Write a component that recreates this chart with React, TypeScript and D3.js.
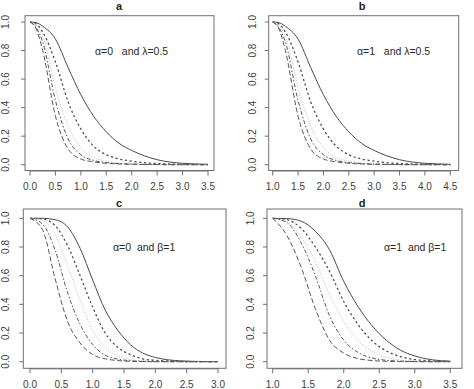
import React from 'react';
import * as d3 from 'd3';

// ---------- data ----------
const xA = [0, 0.125, 0.25, 0.5, 0.75, 1, 1.25, 1.5, 1.75, 2, 2.5, 3, 3.5];
const aSolid = [1, 0.995, 0.97, 0.88, 0.68, 0.49, 0.34, 0.23, 0.15, 0.1, 0.035, 0.01, 0.003];
const aDashed = [1, 0.985, 0.93, 0.72, 0.44, 0.25, 0.13, 0.07, 0.04, 0.025, 0.008, 0.003, 0.001];
const aDotted = [1, 0.975, 0.9, 0.54, 0.27, 0.12, 0.05, 0.025, 0.012, 0.006, 0.002, 0.001, 0];
const aDashDot = [1, 0.96, 0.86, 0.45, 0.18, 0.07, 0.03, 0.015, 0.008, 0.004, 0.001, 0, 0];
const aLongDash = [1, 0.95, 0.8, 0.34, 0.11, 0.04, 0.02, 0.01, 0.005, 0.003, 0.001, 0, 0];

const xB = [1, 1.125, 1.25, 1.5, 1.75, 2, 2.25, 2.5, 2.75, 3, 3.5, 4, 4.5];
const bSolid = [1, 0.995, 0.97, 0.88, 0.68, 0.49, 0.34, 0.23, 0.15, 0.1, 0.035, 0.01, 0.003];
const bDashed = [1, 0.985, 0.93, 0.72, 0.44, 0.25, 0.13, 0.07, 0.04, 0.025, 0.008, 0.003, 0.001];
const bDotted = [1, 0.975, 0.9, 0.54, 0.27, 0.12, 0.05, 0.025, 0.012, 0.006, 0.002, 0.001, 0];
const bDashDot = [1, 0.96, 0.86, 0.45, 0.18, 0.07, 0.03, 0.015, 0.008, 0.004, 0.001, 0, 0];
const bLongDash = [1, 0.95, 0.8, 0.34, 0.11, 0.04, 0.02, 0.01, 0.005, 0.003, 0.001, 0, 0];

const xC = [0, 0.2, 0.4, 0.6, 0.8, 1, 1.2, 1.4, 1.6, 1.8, 2, 2.4, 2.8, 3];
const cSolid = [1, 1, 0.99, 0.94, 0.79, 0.57, 0.36, 0.22, 0.12, 0.06, 0.03, 0.006, 0.001, 0];
const cDashed = [1, 0.995, 0.95, 0.81, 0.6, 0.38, 0.2, 0.1, 0.05, 0.02, 0.01, 0.002, 0, 0];
const cDotted = [1, 0.985, 0.89, 0.67, 0.43, 0.22, 0.1, 0.04, 0.015, 0.006, 0.002, 0, 0, 0];
const cDashDot = [1, 0.96, 0.78, 0.48, 0.26, 0.12, 0.045, 0.018, 0.007, 0.002, 0.001, 0, 0, 0];
const cLongDash = [1, 0.92, 0.58, 0.28, 0.13, 0.05, 0.02, 0.008, 0.003, 0.001, 0, 0, 0, 0];

const xD = [1, 1.2, 1.4, 1.6, 1.8, 2, 2.2, 2.4, 2.6, 2.8, 3, 3.25, 3.5];
const dSolid = [1, 0.998, 0.98, 0.91, 0.78, 0.56, 0.385, 0.25, 0.15, 0.08, 0.04, 0.013, 0.004];
const dDashed = [1, 0.99, 0.93, 0.8, 0.63, 0.42, 0.26, 0.145, 0.075, 0.035, 0.015, 0.005, 0.001];
const dDotted = [1, 0.98, 0.87, 0.7, 0.47, 0.28, 0.15, 0.07, 0.03, 0.012, 0.005, 0.001, 0];
const dDashDot = [1, 0.97, 0.83, 0.6, 0.32, 0.15, 0.065, 0.025, 0.01, 0.004, 0.001, 0, 0];
const dLongDash = [1, 0.88, 0.66, 0.37, 0.15, 0.06, 0.022, 0.008, 0.003, 0.001, 0, 0, 0];

const xTicksA = [0, 0.5, 1, 1.5, 2, 2.5, 3, 3.5];
const xTicksB = [1, 1.5, 2, 2.5, 3, 3.5, 4, 4.5];
const xTicksC = [0, 0.5, 1, 1.5, 2, 2.5, 3];
const xTicksD = [1, 1.5, 2, 2.5, 3, 3.5];
const yTicks = [0, 0.2, 0.4, 0.6, 0.8, 1];
const titles = ['a', 'b', 'c', 'd'];
const notes = ['\u03b1=0   and \u03bb=0.5', '\u03b1=1   and \u03bb=0.5', '\u03b1=0  and \u03b2=1', '\u03b1=1  and \u03b2=1'];

// ---------- styles / layout ----------
const lineStyles = [
  { color: '#4a4a4a', dash: undefined as string | undefined, width: 1 },
  { color: '#4a4a4a', dash: '2.2,2.6', width: 1.25 },
  { color: '#bdbdbd', dash: '1,1.5', width: 1 },
  { color: '#585858', dash: '4,2,1.5,2', width: 1 },
  { color: '#585858', dash: '5,2.5', width: 1 },
];

const layouts = [
  { box: [25, 15.7, 214, 170.5], xr: [30, 208], yr: [164.7, 22], ylabX: 8.6, xlabY: 190, title: [119, 10], note: [95, 55] },
  { box: [268.7, 15.7, 458.7, 170.5], xr: [272.7, 450.3], yr: [164.7, 22], ylabX: 255.6, xlabY: 190, title: [362, 10], note: [357, 55] },
  { box: [23.3, 209, 226, 368.3], xr: [30, 218], yr: [361.7, 218.3], ylabX: 8.6, xlabY: 388, title: [119, 207], note: [113, 251] },
  { box: [267, 209, 462, 368.3], xr: [272.7, 450.3], yr: [361.7, 218.3], ylabX: 253.6, xlabY: 388, title: [362, 207], note: [384, 251] },
];

const panels = [
  { xs: xA, xDomain: [0, 3.5], xTicks: xTicksA, series: [aSolid, aDashed, aDotted, aDashDot, aLongDash] },
  { xs: xB, xDomain: [1, 4.5], xTicks: xTicksB, series: [bSolid, bDashed, bDotted, bDashDot, bLongDash] },
  { xs: xC, xDomain: [0, 3], xTicks: xTicksC, series: [cSolid, cDashed, cDotted, cDashDot, cLongDash] },
  { xs: xD, xDomain: [1, 3.5], xTicks: xTicksD, series: [dSolid, dDashed, dDotted, dDashDot, dLongDash] },
];

const FONT = 'Liberation Sans, Arial, Helvetica, sans-serif';
const TEXT = '#404040';
const AXIS = '#707070';

function Panel({ idx }: { idx: number }) {
  const p = panels[idx];
  const L = layouts[idx];
  const x = d3.scaleLinear().domain(p.xDomain).range(L.xr);
  const y = d3.scaleLinear().domain([0, 1]).range(L.yr);
  const line = d3
    .line<[number, number]>()
    .x((d) => x(d[0]))
    .y((d) => y(d[1]))
    .curve(d3.curveMonotoneX);
  const [bx0, by0, bx1, by1] = L.box;
  return (
    <g>
      <text x={L.title[0]} y={L.title[1]} textAnchor="middle" fontFamily={FONT} fontWeight="bold" fontSize={11} fill="#222">
        {titles[idx]}
      </text>
      <rect x={bx0} y={by0} width={bx1 - bx0} height={by1 - by0} fill="none" stroke={AXIS} strokeWidth={1} />
      {p.series.map((s, i) => {
        const st = lineStyles[i];
        const pts = p.xs.map((xv, j) => [xv, s[j]] as [number, number]);
        return (
          <path
            key={i}
            d={line(pts) || ''}
            fill="none"
            stroke={st.color}
            strokeWidth={st.width}
            strokeDasharray={st.dash}
          />
        );
      })}
      {/* x axis */}
      <line x1={x(p.xTicks[0])} x2={x(p.xTicks[p.xTicks.length - 1])} y1={by1 + 0.5} y2={by1 + 0.5} stroke={AXIS} />
      {p.xTicks.map((t) => (
        <g key={'x' + t}>
          <line x1={x(t)} x2={x(t)} y1={by1} y2={by1 + 5} stroke={AXIS} />
          <text x={x(t)} y={L.xlabY} textAnchor="middle" fontFamily={FONT} fontSize={10} fill={TEXT}>
            {d3.format('.1f')(t)}
          </text>
        </g>
      ))}
      {/* y axis */}
      {yTicks.map((t) => (
        <g key={'y' + t}>
          <line x1={bx0 - 4} x2={bx0} y1={y(t)} y2={y(t)} stroke={AXIS} />
          <text
            transform={`translate(${L.ylabX},${y(t)}) rotate(-90)`}
            textAnchor="middle"
            fontFamily={FONT}
            fontSize={10}
            fill={TEXT}
          >
            {d3.format('.1f')(t)}
          </text>
        </g>
      ))}
      <text x={L.note[0]} y={L.note[1]} fontFamily={FONT} fontSize={10.5} fill="#2a2a2a" style={{ whiteSpace: 'pre' }}>
        {notes[idx]}
      </text>
    </g>
  );
}

export default function App() {
  return (
    <svg
      width={474}
      height={389}
      viewBox="0 0 474 389"
      style={{ position: 'absolute', left: 0, top: 0, background: '#fff' }}
    >
      <rect x={0} y={0} width={474} height={389} fill="#fff" />
      {panels.map((_, i) => (
        <Panel key={i} idx={i} />
      ))}
    </svg>
  );
}
